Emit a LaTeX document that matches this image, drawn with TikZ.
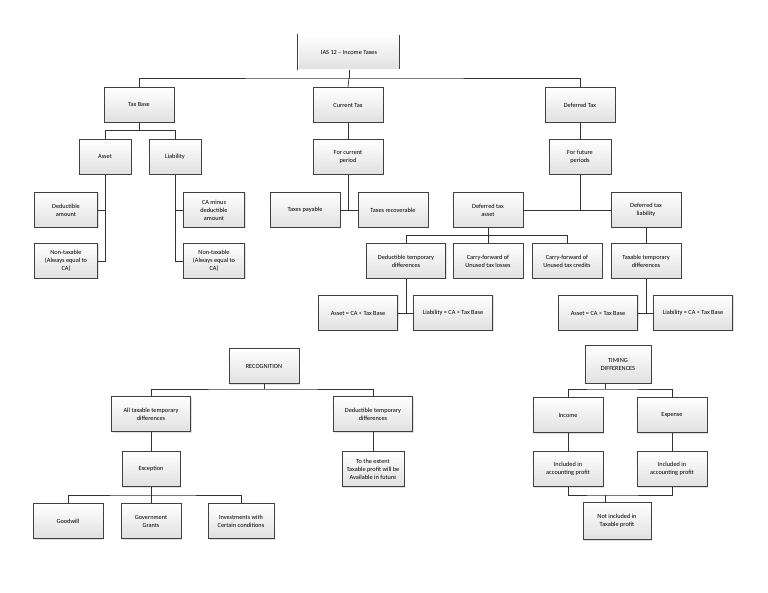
\documentclass[tikz,border=0pt]{standalone}
\usepackage{fontspec}
\setmainfont{Carlito}
\usetikzlibrary{shadows}

\begin{document}
\begin{tikzpicture}[x=1pt, y=-1pt,
    box/.style={draw=black!75, top color=white, bottom color=black!12,
      drop shadow={shadow xshift=1pt, shadow yshift=-1pt, opacity=0.25},
      minimum width=70pt, minimum height=35pt, align=center, inner sep=1pt,
      font=\fontsize{6.3}{8}\selectfont},
    wide/.style={box, minimum width=79pt},
    link/.style={draw=black!80, line width=0.7pt}]
    \useasboundingbox (0,0) rectangle (768,593);
    % income taxes tree
    \node[box, double, double distance=1pt, minimum width=102pt] (ias) at (349,52) {IAS 12 -- Income Taxes};
    \node[box] (taxbase) at (139,105) {Tax Base};
    \node[box] (curtax) at (348,105) {Current Tax};
    \node[box] (deftax) at (580,105) {Deferred Tax};
    \node[box, minimum width=52pt] (asset) at (105,157) {Asset};
    \node[box, minimum width=52pt] (liab) at (175,157) {Liability};
    \node[box, minimum width=63pt] (dedamt) at (66,210) {Deductible\\amount};
    \node[box, minimum width=63pt] (nontaxa) at (66,261) {Non-taxable\\(Always equal to\\CA)};
    \node[box, minimum width=61pt] (caminus) at (214,210) {CA minus\\deductible\\amount};
    \node[box, minimum width=61pt] (nontaxl) at (214,261) {Non-taxable\\(Always equal to\\CA)};
    \node[box] (forcur) at (348,157) {For current\\period};
    \node[box] (taxpay) at (305,210) {Taxes payable};
    \node[box] (taxrec) at (393,210) {Taxes recoverable};
    \node[box, minimum width=62pt] (forfut) at (580,157) {For future\\periods};
    \node[box] (dta) at (488,210) {Deferred tax\\asset};
    \node[box] (dtl) at (646,210) {Deferred tax\\liability};
    \node[wide] (dtd) at (406,261) {Deductible temporary\\differences};
    \node[box] (cfloss) at (488,261) {Carry-forward of\\Unused tax losses};
    \node[box] (cfcred) at (567,261) {Carry-forward of\\Unused tax credits};
    \node[box] (ttd) at (646,261) {Taxable temporary\\differences};
    \node[wide] (alt) at (358,313) {Asset = CA < Tax Base};
    \node[wide] (lgt) at (453,313) {Liability = CA > Tax Base};
    \node[wide] (agt) at (598,313) {Asset = CA > Tax Base};
    \node[wide] (llt) at (693,313) {Liability = CA < Tax Base};
    % recognition tree
    \node[box] (recog) at (264,366) {RECOGNITION};
    \node[wide] (alltax) at (151,414) {All taxable temporary\\differences};
    \node[wide] (dedtemp) at (373,414) {Deductible temporary\\differences};
    \node[box, minimum width=58pt] (except) at (151,469) {Exception};
    \node[box, minimum width=62pt] (extent) at (373,469) {To the extent\\Taxable profit will be\\Available in future};
    \node[box] (goodwill) at (68,521) {Goodwill};
    \node[box, minimum width=60pt] (grants) at (151,521) {Government\\Grants};
    \node[box, minimum width=66pt] (invest) at (241,521) {Investments with\\Certain conditions};
    % timing differences tree
    \node[box, minimum width=66pt, minimum height=38pt] (timing) at (618,364) {TIMING\\DIFFERENCES};
    \node[box] (income) at (568,415) {Income};
    \node[box] (expense) at (672,415) {Expense};
    \node[box] (inclone) at (568,469) {Included in\\accounting profit};
    \node[box] (incltwo) at (672,469) {Included in\\accounting profit};
    \node[box, minimum width=68pt, minimum height=37pt] (notincl) at (617,521) {Not included in\\Taxable profit};
    % connectors
    \coordinate (busa) at (349,78);
    \draw[link] (ias) -- (busa);
    \draw[link] (taxbase.north) |- (busa) -| (deftax.north);
    \draw[link] (busa) -- (curtax.north);
    \draw[link] (taxbase.south) -- ++(0,8) coordinate (busb);
    \draw[link] (asset.north) |- (busb) -| (liab.north);
    \draw[link] (dedamt.east) -- (dedamt.east -| asset.south);
    \draw[link] (asset.south) |- (nontaxa.east);
    \draw[link] (caminus.west) -- (caminus.west -| liab.south);
    \draw[link] (liab.south) |- (nontaxl.west);
    \draw[link] (curtax) -- (forcur);
    \draw[link] (forcur.south) -- (forcur.south |- taxpay);
    \draw[link] (taxpay) -- (taxrec);
    \draw[link] (deftax) -- (forfut);
    \draw[link] (forfut.south) -- (forfut.south |- dta);
    \draw[link] (dta) -- (dtl);
    \draw[link] (dta.south) -- ++(0,8) coordinate (busc);
    \draw[link] (dtd.north) |- (busc) -| (cfcred.north);
    \draw[link] (busc) -- (cfloss.north);
    \draw[link] (dtd.south) -- (dtd.south |- alt);
    \draw[link] (alt) -- (lgt);
    \draw[link] (dtl) -- (ttd);
    \draw[link] (ttd.south) -- (ttd.south |- agt);
    \draw[link] (agt) -- (llt);
    \draw[link] (recog.south) -- (264,389) coordinate (busd);
    \draw[link] (alltax.north) |- (busd) -| (dedtemp.north);
    \draw[link] (alltax) -- (except);
    \draw[link] (dedtemp) -- (extent);
    \draw[link] (except.south) -- (151,495) coordinate (buse);
    \draw[link] (goodwill.north) |- (buse) -| (invest.north);
    \draw[link] (buse) -- (grants.north);
    \draw[link] (605,383) coordinate (tbot) -- (605,389) coordinate (busf);
    \draw[link] (income.north) |- (busf) -| (expense.north);
    \draw[link] (income) -- (inclone);
    \draw[link] (expense) -- (incltwo);
    \draw[link] (inclone.south) |- (605,495) coordinate (busg) -| (incltwo.south);
    \draw[link] (busg) -- (busg |- notincl.north);
\end{tikzpicture}
\end{document}
